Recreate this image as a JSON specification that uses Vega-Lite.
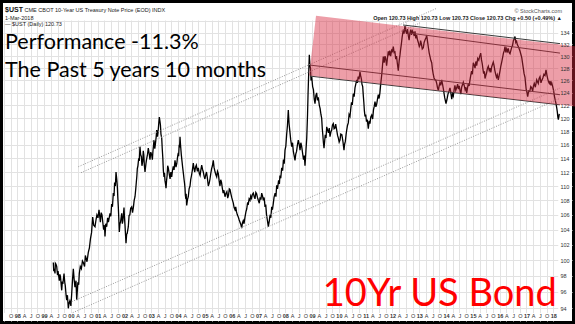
{
"$schema": "https://vega.github.io/schema/vega-lite/v6.json",
"width": 569, "height": 318,
"autosize": {"type": "none"},
"padding": 3,
"background": "#000000",
"config": {"view": {"fill": "#ffffff", "stroke": null}, "font": "Liberation Sans"},
"data": {"values": [{}]},
"datasets": {
"price": [
{"t":1999.343,"p":99.7},{"t":1999.36,"p":98.6},{"t":1999.38,"p":98.9},{"t":1999.407,"p":98.3},{"t":1999.42,"p":99.6},{"t":1999.44,"p":99.5},{"t":1999.47,"p":99.2},{"t":1999.50,"p":98.1},{"t":1999.52,"p":98.6},{"t":1999.567,"p":97.4},{"t":1999.59,"p":98.2},{"t":1999.61,"p":97.9},{"t":1999.657,"p":96.2},{"t":1999.68,"p":97.3},{"t":1999.70,"p":97.0},{"t":1999.743,"p":98.3},{"t":1999.77,"p":97.2},{"t":1999.79,"p":96.8},{"t":1999.82,"p":95.6},{"t":1999.843,"p":95.0},{"t":1999.87,"p":95.6},{"t":1999.903,"p":94.0},{"t":1999.93,"p":94.6},{"t":1999.96,"p":94.9},
{"t":2000.00,"p":94.3},{"t":2000.03,"p":95.8},{"t":2000.06,"p":97.5},{"t":2000.09,"p":98.9},{"t":2000.12,"p":97.6},{"t":2000.15,"p":96.6},{"t":2000.19,"p":97.4},{"t":2000.216,"p":95.0},{"t":2000.26,"p":97.2},{"t":2000.29,"p":96.9},{"t":2000.313,"p":98.3},{"t":2000.35,"p":99.2},{"t":2000.39,"p":98.9},{"t":2000.43,"p":99.9},{"t":2000.463,"p":99.7},{"t":2000.51,"p":99.2},{"t":2000.54,"p":100.6},{"t":2000.563,"p":100.3},{"t":2000.60,"p":99.8},{"t":2000.649,"p":101.0},{"t":2000.69,"p":101.6},{"t":2000.73,"p":102.8},{"t":2000.77,"p":103.6},{"t":2000.813,"p":105.7},{"t":2000.85,"p":104.6},{"t":2000.899,"p":104.4},{"t":2000.94,"p":105.4},{"t":2000.97,"p":106.0},
{"t":2001.01,"p":105.6},{"t":2001.049,"p":106.7},{"t":2001.10,"p":105.0},{"t":2001.13,"p":106.3},{"t":2001.16,"p":106.0},{"t":2001.22,"p":104.0},{"t":2001.25,"p":104.6},{"t":2001.272,"p":103.1},{"t":2001.30,"p":104.8},{"t":2001.336,"p":104.4},{"t":2001.37,"p":105.6},{"t":2001.40,"p":105.0},{"t":2001.459,"p":106.2},{"t":2001.49,"p":105.8},{"t":2001.52,"p":107.5},{"t":2001.55,"p":107.1},{"t":2001.582,"p":109.0},{"t":2001.61,"p":108.6},{"t":2001.63,"p":110.5},{"t":2001.66,"p":110.0},{"t":2001.683,"p":112.0},{"t":2001.71,"p":111.0},{"t":2001.731,"p":110.0},{"t":2001.75,"p":108.4},{"t":2001.77,"p":107.0},{"t":2001.79,"p":105.2},{"t":2001.806,"p":103.7},{"t":2001.83,"p":104.8},{"t":2001.85,"p":105.0},{"t":2001.896,"p":106.2},{"t":2001.92,"p":104.8},{"t":2001.94,"p":105.2},{"t":2001.981,"p":107.0},
{"t":2002.00,"p":105.6},{"t":2002.02,"p":104.5},{"t":2002.04,"p":103.2},{"t":2002.056,"p":102.2},{"t":2002.08,"p":103.4},{"t":2002.10,"p":103.5},{"t":2002.142,"p":104.4},{"t":2002.17,"p":105.9},{"t":2002.20,"p":106.0},{"t":2002.23,"p":106.9},{"t":2002.269,"p":107.1},{"t":2002.30,"p":106.3},{"t":2002.33,"p":107.0},{"t":2002.36,"p":108.0},{"t":2002.392,"p":108.5},{"t":2002.42,"p":109.6},{"t":2002.44,"p":110.5},{"t":2002.46,"p":111.4},{"t":2002.478,"p":112.5},{"t":2002.50,"p":112.9},{"t":2002.53,"p":114.0},{"t":2002.55,"p":113.6},{"t":2002.578,"p":115.7},{"t":2002.60,"p":114.6},{"t":2002.63,"p":114.2},{"t":2002.65,"p":112.9},{"t":2002.679,"p":113.5},{"t":2002.70,"p":115.1},{"t":2002.72,"p":114.5},{"t":2002.74,"p":113.0},{"t":2002.765,"p":112.0},{"t":2002.80,"p":113.2},{"t":2002.83,"p":114.0},{"t":2002.86,"p":114.6},{"t":2002.888,"p":115.5},{"t":2002.92,"p":114.7},{"t":2002.95,"p":113.8},{"t":2002.98,"p":114.9},
{"t":2003.015,"p":114.5},{"t":2003.04,"p":113.8},{"t":2003.06,"p":115.0},{"t":2003.08,"p":115.8},{"t":2003.101,"p":116.7},{"t":2003.13,"p":115.4},{"t":2003.15,"p":116.0},{"t":2003.18,"p":117.1},{"t":2003.201,"p":118.2},{"t":2003.23,"p":117.2},{"t":2003.25,"p":117.8},{"t":2003.28,"p":119.3},{"t":2003.299,"p":120.2},{"t":2003.32,"p":119.6},{"t":2003.34,"p":119.0},{"t":2003.36,"p":117.6},{"t":2003.388,"p":117.0},{"t":2003.41,"p":115.3},{"t":2003.43,"p":114.0},{"t":2003.45,"p":112.2},{"t":2003.474,"p":111.3},{"t":2003.49,"p":111.9},{"t":2003.51,"p":110.8},{"t":2003.53,"p":110.3},{"t":2003.549,"p":109.7},{"t":2003.57,"p":110.8},{"t":2003.59,"p":111.5},{"t":2003.61,"p":112.9},{"t":2003.634,"p":112.6},{"t":2003.67,"p":111.7},{"t":2003.70,"p":111.0},{"t":2003.73,"p":112.0},{"t":2003.761,"p":111.3},{"t":2003.79,"p":112.2},{"t":2003.82,"p":112.8},{"t":2003.85,"p":112.3},{"t":2003.884,"p":113.7},{"t":2003.92,"p":112.7},{"t":2003.95,"p":113.2},{"t":2003.98,"p":114.2},
{"t":2004.007,"p":114.8},{"t":2004.02,"p":114.3},{"t":2004.04,"p":116.0},{"t":2004.055,"p":115.6},{"t":2004.071,"p":117.2},{"t":2004.09,"p":116.0},{"t":2004.12,"p":114.5},{"t":2004.15,"p":113.4},{"t":2004.172,"p":112.6},{"t":2004.20,"p":111.7},{"t":2004.22,"p":111.0},{"t":2004.24,"p":110.4},{"t":2004.257,"p":109.7},{"t":2004.27,"p":108.7},{"t":2004.29,"p":108.2},{"t":2004.30,"p":108.9},{"t":2004.321,"p":107.3},{"t":2004.35,"p":108.1},{"t":2004.38,"p":108.5},{"t":2004.41,"p":109.6},{"t":2004.444,"p":110.0},{"t":2004.47,"p":110.9},{"t":2004.50,"p":111.5},{"t":2004.53,"p":112.2},{"t":2004.567,"p":113.3},{"t":2004.59,"p":112.6},{"t":2004.62,"p":112.0},{"t":2004.65,"p":112.7},{"t":2004.68,"p":113.0},{"t":2004.72,"p":112.1},{"t":2004.754,"p":112.6},{"t":2004.79,"p":111.8},{"t":2004.82,"p":111.5},{"t":2004.85,"p":112.3},{"t":2004.88,"p":113.0},{"t":2004.91,"p":112.4},{"t":2004.94,"p":112.0},{"t":2004.97,"p":111.4},
{"t":2005.00,"p":111.0},{"t":2005.03,"p":111.6},{"t":2005.06,"p":112.0},{"t":2005.09,"p":111.2},{"t":2005.127,"p":110.0},{"t":2005.16,"p":110.4},{"t":2005.19,"p":111.0},{"t":2005.22,"p":111.8},{"t":2005.25,"p":112.5},{"t":2005.28,"p":112.9},{"t":2005.313,"p":113.7},{"t":2005.34,"p":112.7},{"t":2005.38,"p":112.0},{"t":2005.41,"p":111.6},{"t":2005.44,"p":111.3},{"t":2005.47,"p":112.1},{"t":2005.50,"p":111.8},{"t":2005.53,"p":110.8},{"t":2005.563,"p":110.0},{"t":2005.59,"p":110.9},{"t":2005.62,"p":110.5},{"t":2005.65,"p":109.7},{"t":2005.68,"p":109.0},{"t":2005.71,"p":109.4},{"t":2005.75,"p":108.5},{"t":2005.78,"p":108.9},{"t":2005.82,"p":109.2},{"t":2005.85,"p":108.3},{"t":2005.88,"p":108.7},{"t":2005.91,"p":109.6},{"t":2005.937,"p":109.5},{"t":2005.97,"p":108.9},
{"t":2006.00,"p":108.4},{"t":2006.03,"p":108.0},{"t":2006.06,"p":107.6},{"t":2006.09,"p":107.0},{"t":2006.123,"p":106.7},{"t":2006.15,"p":107.1},{"t":2006.18,"p":106.4},{"t":2006.21,"p":106.0},{"t":2006.246,"p":105.7},{"t":2006.28,"p":105.3},{"t":2006.31,"p":105.0},{"t":2006.34,"p":104.7},{"t":2006.373,"p":104.2},{"t":2006.40,"p":104.9},{"t":2006.43,"p":105.2},{"t":2006.46,"p":104.8},{"t":2006.496,"p":105.7},{"t":2006.53,"p":106.4},{"t":2006.56,"p":106.8},{"t":2006.59,"p":107.6},{"t":2006.62,"p":107.5},{"t":2006.65,"p":108.2},{"t":2006.683,"p":108.0},{"t":2006.71,"p":108.6},{"t":2006.74,"p":108.3},{"t":2006.77,"p":108.8},{"t":2006.806,"p":109.0},{"t":2006.84,"p":108.5},{"t":2006.87,"p":108.2},{"t":2006.90,"p":109.1},{"t":2006.93,"p":108.9},{"t":2006.96,"p":108.4},{"t":2006.993,"p":108.0},
{"t":2007.03,"p":107.6},{"t":2007.06,"p":108.4},{"t":2007.09,"p":108.1},{"t":2007.119,"p":109.0},{"t":2007.15,"p":108.6},{"t":2007.18,"p":108.0},{"t":2007.21,"p":108.4},{"t":2007.243,"p":107.1},{"t":2007.27,"p":107.4},{"t":2007.30,"p":106.0},{"t":2007.33,"p":105.3},{"t":2007.366,"p":104.4},{"t":2007.40,"p":105.1},{"t":2007.43,"p":106.0},{"t":2007.46,"p":105.6},{"t":2007.493,"p":107.1},{"t":2007.52,"p":106.7},{"t":2007.55,"p":107.5},{"t":2007.58,"p":108.4},{"t":2007.62,"p":109.0},{"t":2007.65,"p":108.5},{"t":2007.679,"p":110.1},{"t":2007.71,"p":109.6},{"t":2007.75,"p":110.8},{"t":2007.78,"p":110.3},{"t":2007.80,"p":111.5},{"t":2007.83,"p":111.1},{"t":2007.866,"p":112.6},{"t":2007.90,"p":112.2},{"t":2007.93,"p":113.8},{"t":2007.96,"p":113.2},{"t":2007.989,"p":115.2},
{"t":2008.02,"p":115.8},{"t":2008.05,"p":117.5},{"t":2008.08,"p":118.9},{"t":2008.112,"p":121.3},{"t":2008.14,"p":119.2},{"t":2008.17,"p":118.0},{"t":2008.20,"p":116.8},{"t":2008.239,"p":115.7},{"t":2008.27,"p":116.3},{"t":2008.30,"p":115.0},{"t":2008.33,"p":114.4},{"t":2008.362,"p":113.7},{"t":2008.39,"p":114.6},{"t":2008.42,"p":115.0},{"t":2008.45,"p":115.9},{"t":2008.485,"p":116.7},{"t":2008.52,"p":116.0},{"t":2008.55,"p":115.2},{"t":2008.58,"p":116.3},{"t":2008.612,"p":115.7},{"t":2008.65,"p":114.6},{"t":2008.68,"p":113.8},{"t":2008.71,"p":114.4},{"t":2008.735,"p":112.9},{"t":2008.77,"p":115.1},{"t":2008.80,"p":117.0},{"t":2008.83,"p":120.6},{"t":2008.85,"p":124.0},{"t":2008.875,"p":127.4},{"t":2008.896,"p":130.2},{"t":2008.92,"p":128.4},{"t":2008.94,"p":128.0},{"t":2008.96,"p":126.0},{"t":2008.985,"p":126.6},
{"t":2009.02,"p":125.0},{"t":2009.05,"p":124.5},{"t":2009.08,"p":123.0},{"t":2009.108,"p":122.3},{"t":2009.14,"p":123.6},{"t":2009.17,"p":124.0},{"t":2009.20,"p":122.8},{"t":2009.231,"p":123.3},{"t":2009.27,"p":122.0},{"t":2009.30,"p":121.5},{"t":2009.33,"p":120.6},{"t":2009.358,"p":120.0},{"t":2009.38,"p":118.4},{"t":2009.40,"p":117.5},{"t":2009.42,"p":116.4},{"t":2009.444,"p":115.5},{"t":2009.47,"p":116.6},{"t":2009.49,"p":117.5},{"t":2009.52,"p":117.0},{"t":2009.545,"p":118.7},{"t":2009.58,"p":118.2},{"t":2009.61,"p":117.8},{"t":2009.64,"p":118.5},{"t":2009.668,"p":117.2},{"t":2009.70,"p":117.9},{"t":2009.73,"p":118.2},{"t":2009.76,"p":119.0},{"t":2009.791,"p":119.2},{"t":2009.82,"p":118.4},{"t":2009.85,"p":118.5},{"t":2009.88,"p":119.1},{"t":2009.918,"p":118.2},{"t":2009.95,"p":117.4},{"t":2009.98,"p":117.0},
{"t":2010.01,"p":116.4},{"t":2010.041,"p":116.7},{"t":2010.07,"p":117.6},{"t":2010.11,"p":117.5},{"t":2010.15,"p":116.5},{"t":2010.19,"p":115.2},{"t":2010.21,"p":116.0},{"t":2010.24,"p":116.5},{"t":2010.27,"p":117.6},{"t":2010.291,"p":118.2},{"t":2010.32,"p":118.9},{"t":2010.35,"p":119.3},{"t":2010.38,"p":120.6},{"t":2010.414,"p":120.3},{"t":2010.44,"p":121.4},{"t":2010.47,"p":122.5},{"t":2010.50,"p":122.1},{"t":2010.537,"p":123.9},{"t":2010.57,"p":123.4},{"t":2010.60,"p":124.8},{"t":2010.63,"p":125.4},{"t":2010.664,"p":126.1},{"t":2010.69,"p":125.6},{"t":2010.72,"p":126.6},{"t":2010.75,"p":126.2},{"t":2010.787,"p":127.4},{"t":2010.81,"p":126.8},{"t":2010.84,"p":126.2},{"t":2010.86,"p":125.4},{"t":2010.888,"p":125.0},{"t":2010.91,"p":123.6},{"t":2010.93,"p":122.5},{"t":2010.95,"p":121.2},{"t":2010.974,"p":120.3},
{"t":2011.00,"p":120.6},{"t":2011.03,"p":119.5},{"t":2011.06,"p":119.8},{"t":2011.097,"p":118.4},{"t":2011.13,"p":119.6},{"t":2011.16,"p":119.2},{"t":2011.19,"p":120.2},{"t":2011.224,"p":120.5},{"t":2011.26,"p":119.9},{"t":2011.29,"p":121.3},{"t":2011.32,"p":121.9},{"t":2011.347,"p":122.6},{"t":2011.38,"p":121.8},{"t":2011.41,"p":122.2},{"t":2011.44,"p":123.0},{"t":2011.47,"p":123.7},{"t":2011.50,"p":123.1},{"t":2011.53,"p":124.0},{"t":2011.56,"p":125.4},{"t":2011.60,"p":127.0},{"t":2011.63,"p":128.6},{"t":2011.657,"p":129.9},{"t":2011.69,"p":128.9},{"t":2011.72,"p":130.0},{"t":2011.75,"p":129.5},{"t":2011.78,"p":128.4},{"t":2011.81,"p":129.6},{"t":2011.843,"p":130.8},{"t":2011.87,"p":130.1},{"t":2011.90,"p":130.9},{"t":2011.93,"p":130.0},{"t":2011.97,"p":131.0},
{"t":2012.00,"p":130.8},{"t":2012.03,"p":131.6},{"t":2012.06,"p":130.6},{"t":2012.09,"p":130.7},{"t":2012.12,"p":129.5},{"t":2012.15,"p":130.0},{"t":2012.18,"p":128.8},{"t":2012.216,"p":127.6},{"t":2012.25,"p":129.3},{"t":2012.28,"p":130.2},{"t":2012.30,"p":131.0},{"t":2012.33,"p":132.0},{"t":2012.36,"p":133.2},{"t":2012.403,"p":134.5},{"t":2012.43,"p":133.8},{"t":2012.466,"p":135.1},{"t":2012.50,"p":134.2},{"t":2012.53,"p":133.8},{"t":2012.56,"p":134.6},{"t":2012.59,"p":133.5},{"t":2012.62,"p":132.7},{"t":2012.65,"p":133.9},{"t":2012.68,"p":134.5},{"t":2012.71,"p":133.6},{"t":2012.74,"p":134.3},{"t":2012.776,"p":134.0},{"t":2012.81,"p":133.4},{"t":2012.84,"p":134.2},{"t":2012.87,"p":133.0},{"t":2012.90,"p":133.6},{"t":2012.93,"p":132.8},{"t":2012.963,"p":132.3},
{"t":2013.00,"p":131.6},{"t":2013.03,"p":131.9},{"t":2013.05,"p":132.6},{"t":2013.08,"p":132.0},{"t":2013.11,"p":131.2},{"t":2013.149,"p":131.4},{"t":2013.18,"p":132.3},{"t":2013.22,"p":132.8},{"t":2013.25,"p":133.1},{"t":2013.276,"p":133.5},{"t":2013.31,"p":132.4},{"t":2013.34,"p":131.4},{"t":2013.37,"p":130.5},{"t":2013.40,"p":129.9},{"t":2013.43,"p":129.3},{"t":2013.463,"p":128.9},{"t":2013.49,"p":127.8},{"t":2013.52,"p":127.0},{"t":2013.55,"p":126.4},{"t":2013.586,"p":126.1},{"t":2013.62,"p":126.0},{"t":2013.65,"p":125.5},{"t":2013.68,"p":124.8},{"t":2013.709,"p":124.4},{"t":2013.74,"p":125.1},{"t":2013.77,"p":125.6},{"t":2013.80,"p":125.2},{"t":2013.836,"p":126.1},{"t":2013.87,"p":125.3},{"t":2013.90,"p":124.6},{"t":2013.92,"p":124.0},{"t":2013.95,"p":123.2},{"t":2013.996,"p":122.3},
{"t":2014.03,"p":122.9},{"t":2014.07,"p":123.8},{"t":2014.11,"p":124.3},{"t":2014.146,"p":124.8},{"t":2014.18,"p":123.9},{"t":2014.21,"p":123.0},{"t":2014.24,"p":123.8},{"t":2014.269,"p":123.5},{"t":2014.30,"p":124.5},{"t":2014.33,"p":125.2},{"t":2014.36,"p":124.4},{"t":2014.396,"p":124.8},{"t":2014.43,"p":125.4},{"t":2014.46,"p":124.6},{"t":2014.49,"p":125.1},{"t":2014.519,"p":124.4},{"t":2014.55,"p":123.8},{"t":2014.58,"p":124.9},{"t":2014.61,"p":125.3},{"t":2014.642,"p":125.7},{"t":2014.68,"p":125.1},{"t":2014.71,"p":124.5},{"t":2014.74,"p":124.9},{"t":2014.769,"p":124.0},{"t":2014.80,"p":124.8},{"t":2014.83,"p":125.5},{"t":2014.86,"p":125.1},{"t":2014.892,"p":126.1},{"t":2014.92,"p":126.8},{"t":2014.95,"p":127.5},{"t":2014.98,"p":127.0},
{"t":2015.015,"p":128.9},{"t":2015.05,"p":128.5},{"t":2015.08,"p":128.0},{"t":2015.11,"p":129.1},{"t":2015.142,"p":128.4},{"t":2015.18,"p":129.6},{"t":2015.22,"p":129.3},{"t":2015.25,"p":129.9},{"t":2015.291,"p":130.5},{"t":2015.32,"p":129.4},{"t":2015.35,"p":128.7},{"t":2015.37,"p":128.0},{"t":2015.40,"p":127.1},{"t":2015.43,"p":127.5},{"t":2015.451,"p":126.3},{"t":2015.48,"p":126.8},{"t":2015.51,"p":127.2},{"t":2015.54,"p":127.9},{"t":2015.575,"p":128.3},{"t":2015.61,"p":127.6},{"t":2015.64,"p":128.0},{"t":2015.67,"p":127.3},{"t":2015.70,"p":128.2},{"t":2015.73,"p":128.6},{"t":2015.761,"p":129.0},{"t":2015.79,"p":128.4},{"t":2015.82,"p":127.6},{"t":2015.85,"p":127.0},{"t":2015.88,"p":126.5},{"t":2015.91,"p":126.9},{"t":2015.948,"p":126.1},{"t":2015.98,"p":126.8},
{"t":2016.01,"p":127.5},{"t":2016.04,"p":128.3},{"t":2016.075,"p":129.0},{"t":2016.11,"p":129.8},{"t":2016.14,"p":130.5},{"t":2016.17,"p":130.9},{"t":2016.198,"p":131.6},{"t":2016.23,"p":130.6},{"t":2016.26,"p":131.2},{"t":2016.29,"p":130.8},{"t":2016.32,"p":131.3},{"t":2016.35,"p":130.6},{"t":2016.384,"p":130.4},{"t":2016.42,"p":131.0},{"t":2016.45,"p":131.5},{"t":2016.48,"p":131.8},{"t":2016.51,"p":132.6},{"t":2016.54,"p":132.9},{"t":2016.571,"p":133.3},{"t":2016.60,"p":132.3},{"t":2016.63,"p":132.5},{"t":2016.66,"p":131.9},{"t":2016.694,"p":131.6},{"t":2016.73,"p":131.2},{"t":2016.76,"p":130.8},{"t":2016.79,"p":130.3},{"t":2016.821,"p":129.8},{"t":2016.85,"p":128.9},{"t":2016.88,"p":128.0},{"t":2016.91,"p":127.1},{"t":2016.944,"p":126.5},{"t":2016.97,"p":125.3},{"t":2016.99,"p":124.5},{"t":2017.02,"p":124.0},
{"t":2017.045,"p":123.4},{"t":2017.08,"p":124.3},{"t":2017.12,"p":124.2},{"t":2017.16,"p":125.0},{"t":2017.194,"p":124.8},{"t":2017.23,"p":124.3},{"t":2017.26,"p":125.1},{"t":2017.29,"p":125.5},{"t":2017.33,"p":124.9},{"t":2017.36,"p":125.6},{"t":2017.381,"p":126.1},{"t":2017.41,"p":125.8},{"t":2017.44,"p":125.5},{"t":2017.47,"p":126.3},{"t":2017.504,"p":126.6},{"t":2017.54,"p":125.6},{"t":2017.57,"p":126.0},{"t":2017.61,"p":126.4},{"t":2017.65,"p":127.0},{"t":2017.69,"p":126.8},{"t":2017.728,"p":127.7},{"t":2017.76,"p":126.9},{"t":2017.79,"p":126.3},{"t":2017.82,"p":125.8},{"t":2017.851,"p":125.5},{"t":2017.88,"p":125.9},{"t":2017.91,"p":125.2},{"t":2017.94,"p":125.6},{"t":2017.978,"p":125.0},
{"t":2018.01,"p":124.4},{"t":2018.04,"p":123.5},{"t":2018.07,"p":122.9},{"t":2018.101,"p":122.3},{"t":2018.13,"p":121.6},{"t":2018.15,"p":121.0},{"t":2018.17,"p":120.2},{"t":2018.19,"p":119.8},{"t":2018.21,"p":120.3},{"t":2018.224,"p":120.7}
],
"dotted": [
{"g":"a","t":2000.03,"p":94.8},{"g":"a","t":2018.25,"p":124.77},
{"g":"b","t":2000.067,"p":93.47},{"g":"b","t":2018.25,"p":123.13},
{"g":"c","t":2000.276,"p":112.76},{"g":"c","t":2013.649,"p":138.23},
{"g":"d","t":2000.377,"p":111.9},{"g":"d","t":2013.026,"p":135.66}
],
"channel": [
{"g":"e","t":2012.392,"p":135.3},{"g":"e","t":2018.25,"p":132.1},
{"g":"f","t":2012.653,"p":133.9},{"g":"f","t":2018.25,"p":130.5},
{"g":"h","t":2008.922,"p":128.5},{"g":"h","t":2018.25,"p":123.7},
{"g":"i","t":2008.922,"p":126.7},{"g":"i","t":2018.25,"p":122.1}
],
"band": [
{"o":1,"t":2009.146,"p":136.9},{"o":2,"t":2019.743,"p":131.15},{"o":3,"t":2019.485,"p":121.5},{"o":4,"t":2008.888,"p":126.8}
]
},
"layer": [
{"mark": {"type": "rect", "color": "#ffffff"},
 "encoding": {
  "x": {"datum": 1997.466, "type": "quantitative", "scale": {"domain": [1997.466, 2018.698], "nice": false, "zero": false}, "axis": null},
  "x2": {"datum": 2018.698},
  "y": {"datum": 136.1, "type": "quantitative", "scale": {"type": "log", "domain": [92.48, 139.18], "nice": false}, "axis": null},
  "y2": {"datum": 139.18}}},
{"mark": {"type": "rect", "color": "#ffffff"},
 "encoding": {
  "x": {"datum": 1997.466, "type": "quantitative", "scale": {"domain": [1997.466, 2018.698], "nice": false, "zero": false}, "axis": null},
  "x2": {"datum": 2018.698},
  "y": {"datum": 92.48, "type": "quantitative", "scale": {"type": "log", "domain": [92.48, 139.18], "nice": false}, "axis": null},
  "y2": {"datum": 93.44}}},
{"mark": {"type": "rect", "color": "#ffffff"},
 "encoding": {
  "x": {"datum": 2018.185, "type": "quantitative", "scale": {"domain": [1997.466, 2018.698], "nice": false, "zero": false}, "axis": null},
  "x2": {"datum": 2018.698},
  "y": {"datum": 92.48, "type": "quantitative", "scale": {"type": "log", "domain": [92.48, 139.18], "nice": false}, "axis": null},
  "y2": {"datum": 139.18}}},
{"data": {"name": "price"},
 "mark": {"type": "line", "color": "#000000", "strokeWidth": 1.3},
 "encoding": {
  "x": {"field": "t", "type": "quantitative", "scale": {"domain": [1997.466, 2018.698], "nice": false, "zero": false},
        "axis": {"grid": true, "labels": false, "ticks": false, "domain": false, "title": null, "gridColor": "#e2e2e2", "gridWidth": 1, "zindex": 0,
                 "values": [1997.5,1997.75,1998,1998.25,1998.5,1998.75,1999,1999.25,1999.5,1999.75,2000,2000.25,2000.5,2000.75,2001,2001.25,2001.5,2001.75,2002,2002.25,2002.5,2002.75,2003,2003.25,2003.5,2003.75,2004,2004.25,2004.5,2004.75,2005,2005.25,2005.5,2005.75,2006,2006.25,2006.5,2006.75,2007,2007.25,2007.5,2007.75,2008,2008.25,2008.5,2008.75,2009,2009.25,2009.5,2009.75,2010,2010.25,2010.5,2010.75,2011,2011.25,2011.5,2011.75,2012,2012.25,2012.5,2012.75,2013,2013.25,2013.5,2013.75,2014,2014.25,2014.5,2014.75,2015,2015.25,2015.5,2015.75,2016,2016.25,2016.5,2016.75,2017,2017.25,2017.5,2017.75,2018]}},
  "y": {"field": "p", "type": "quantitative", "scale": {"type": "log", "domain": [92.48, 139.18], "nice": false},
        "axis": {"grid": true, "labels": false, "ticks": false, "domain": false, "title": null, "gridColor": "#e2e2e2", "gridWidth": 1, "zindex": 0, "orient": "right",
                 "values": [94,96,98,100,102,104,106,108,110,112,114,116,118,120,122,124,126,128,130,132,134,136]}}}},
{"data": {"name": "dotted"},
 "mark": {"type": "line", "color": "#9a9a9a", "strokeWidth": 1, "strokeDash": [1, 1.5]},
 "encoding": {
  "x": {"field": "t", "type": "quantitative", "scale": {"domain": [1997.466, 2018.698], "nice": false, "zero": false},
        "axis": {"grid": false, "labels": true, "ticks": false, "domain": false, "title": null, "zindex": 1, "orient": "bottom", "offset": -9,
                 "labelFontSize": 5.5, "labelColor": "#333333", "labelPadding": 1, "labelAngle": 0, "labelOverlap": false, "labelFlush": false, "labelBound": false,
                 "labelFontWeight": {"condition": {"test": "datum.value % 1 == 0", "value": "bold"}, "value": "normal"},
                 "labelExpr": "datum.value % 1 == 0 ? slice(toString(datum.value), 2) : (datum.value % 1 == 0.25 ? 'A' : (datum.value % 1 == 0.5 ? 'J' : 'O'))",
                 "values": [1997.75,1998,1998.25,1998.5,1998.75,1999,1999.25,1999.5,1999.75,2000,2000.25,2000.5,2000.75,2001,2001.25,2001.5,2001.75,2002,2002.25,2002.5,2002.75,2003,2003.25,2003.5,2003.75,2004,2004.25,2004.5,2004.75,2005,2005.25,2005.5,2005.75,2006,2006.25,2006.5,2006.75,2007,2007.25,2007.5,2007.75,2008,2008.25,2008.5,2008.75,2009,2009.25,2009.5,2009.75,2010,2010.25,2010.5,2010.75,2011,2011.25,2011.5,2011.75,2012,2012.25,2012.5,2012.75,2013,2013.25,2013.5,2013.75,2014,2014.25,2014.5,2014.75,2015,2015.25,2015.5,2015.75,2016,2016.25,2016.5,2016.75,2017,2017.25,2017.5,2017.75,2018]}},
  "y": {"field": "p", "type": "quantitative", "scale": {"type": "log", "domain": [92.48, 139.18], "nice": false},
        "axis": {"grid": false, "labels": true, "ticks": false, "domain": false, "title": null, "zindex": 1, "orient": "right", "offset": -14,
                 "labelFontSize": 5.5, "labelColor": "#333333", "labelPadding": 2, "format": "d",
                 "values": [94,96,98,100,102,104,106,108,110,112,114,116,118,120,122,124,126,128,130,132,134]}},
  "detail": {"field": "g"}}},
{"data": {"name": "channel"},
 "mark": {"type": "line", "color": "#3a3a3a", "strokeWidth": 1},
 "encoding": {
  "x": {"field": "t", "type": "quantitative", "scale": {"domain": [1997.466, 2018.698], "nice": false, "zero": false}, "axis": null},
  "y": {"field": "p", "type": "quantitative", "scale": {"type": "log", "domain": [92.48, 139.18], "nice": false}, "axis": null},
  "detail": {"field": "g"}}},
{"mark": {"type": "text", "text": "$UST", "align": "left", "baseline": "middle", "fontSize": 7, "fontWeight": "bold", "color": "#111111"},
 "encoding": {"x": {"datum": 1997.541, "type": "quantitative", "axis": null}, "y": {"datum": 137.9, "type": "quantitative", "axis": null}}},
{"mark": {"type": "text", "text": "CME CBOT 10-Year US Treasury Note Price (EOD)  INDX", "align": "left", "baseline": "middle", "fontSize": 5.5, "color": "#222222"},
 "encoding": {"x": {"datum": 1998.27, "type": "quantitative", "axis": null}, "y": {"datum": 137.9, "type": "quantitative", "axis": null}}},
{"mark": {"type": "text", "text": "1-Mar-2018", "align": "left", "baseline": "middle", "fontSize": 5.5, "color": "#222222"},
 "encoding": {"x": {"datum": 1997.541, "type": "quantitative", "axis": null}, "y": {"datum": 136.55, "type": "quantitative", "axis": null}}},
{"mark": {"type": "text", "text": "— $UST (Daily) 120.73", "align": "left", "baseline": "middle", "fontSize": 5.5, "color": "#222222"},
 "encoding": {"x": {"datum": 1997.541, "type": "quantitative", "axis": null}, "y": {"datum": 135.45, "type": "quantitative", "axis": null}}},
{"mark": {"type": "text", "text": "© StockCharts.com", "align": "right", "baseline": "middle", "fontSize": 5.5, "color": "#555555"},
 "encoding": {"x": {"datum": 2018.325, "type": "quantitative", "axis": null}, "y": {"datum": 137.75, "type": "quantitative", "axis": null}}},
{"mark": {"type": "text", "text": "Open 120.73  High 120.73  Low 120.73  Close 120.73  Chg +0.50 (+0.49%) ▲", "align": "right", "baseline": "middle", "fontSize": 5.5, "fontWeight": "bold", "color": "#222222"},
 "encoding": {"x": {"datum": 2018.325, "type": "quantitative", "axis": null}, "y": {"datum": 136.5, "type": "quantitative", "axis": null}}},
{"mark": {"type": "text", "text": "Performance -11.3%", "align": "left", "baseline": "alphabetic", "fontSize": 21.5, "font": "Lato", "color": "#000000"},
 "encoding": {"x": {"datum": 1997.541, "type": "quantitative", "axis": null}, "y": {"datum": 131.2, "type": "quantitative", "axis": null}}},
{"mark": {"type": "text", "text": "The Past 5 years 10 months", "align": "left", "baseline": "alphabetic", "fontSize": 21.5, "font": "Lato", "color": "#000000"},
 "encoding": {"x": {"datum": 1997.541, "type": "quantitative", "axis": null}, "y": {"datum": 126.6, "type": "quantitative", "axis": null}}},
{"mark": {"type": "text", "text": "10Yr US Bond", "align": "right", "baseline": "alphabetic", "fontSize": 38, "font": "Lato", "color": "#ff0000"},
 "encoding": {"x": {"datum": 2018.13, "type": "quantitative", "axis": null}, "y": {"datum": 94.28, "type": "quantitative", "axis": null}}},
{"data": {"name": "band"},
 "mark": {"type": "line", "interpolate": "linear-closed", "fill": "#d8283f", "fillOpacity": 0.45, "strokeWidth": 0},
 "encoding": {
  "x": {"field": "t", "type": "quantitative", "scale": {"domain": [1997.466, 2018.698], "nice": false, "zero": false}, "axis": null},
  "y": {"field": "p", "type": "quantitative", "scale": {"type": "log", "domain": [92.48, 139.18], "nice": false}, "axis": null},
  "order": {"field": "o"}}}
],
"resolve": {"axis": {"x": "independent", "y": "independent"}}
}
